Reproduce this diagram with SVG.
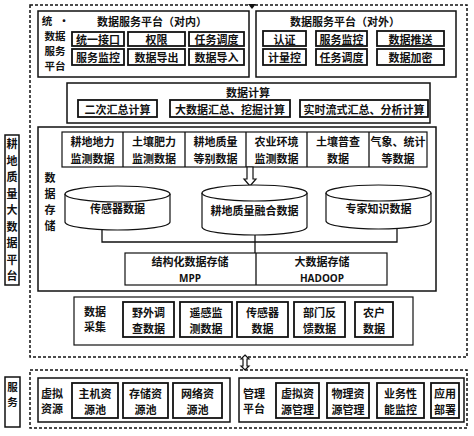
<svg xmlns="http://www.w3.org/2000/svg" width="474" height="436" viewBox="0 0 474 436">
<style>
text{font-family:"Noto Sans CJK SC","Noto Sans",sans-serif;font-weight:bold;font-size:11px;fill:#111;text-anchor:middle;dominant-baseline:central}
.sm{font-size:10.5px}
.en{font-family:"Open Sans","Liberation Sans",sans-serif;font-size:10px}
.dash{fill:none;stroke:#111;stroke-width:1.5;stroke-dasharray:3 2}
.box{fill:#fff;stroke:#111;stroke-width:1.5}
.btn{fill:#fff;stroke:#111;stroke-width:1.8}
.thin{fill:#fff;stroke:#111;stroke-width:1.2}
.ln{fill:none;stroke:#111;stroke-width:1.3}
</style>
<rect width="474" height="436" fill="#fff"/>

<g id="platform-frame">
<rect class="dash" x="30" y="5" width="437" height="352"/>
</g>
<g id="platform-label">
<rect class="box" x="5" y="135" width="14" height="150" stroke-width="2"/>
<text x="12" y="143">耕</text><text x="12" y="159.5">地</text><text x="12" y="176">质</text><text x="12" y="192.5">量</text><text x="12" y="209">大</text><text x="12" y="225.5">数</text><text x="12" y="242">据</text><text x="12" y="258.5">平</text><text x="12" y="275">台</text>
</g>

<g id="internal-service">
<rect class="box" x="38" y="11" width="211" height="66" stroke-width="2"/>
<text class="sm" x="47" y="20">统</text><text class="sm" x="64" y="20">·</text>
<text class="sm" x="55" y="35">数据</text><text class="sm" x="55" y="50">服务</text><text class="sm" x="55" y="65">平台</text>
<text x="152" y="21">数据服务平台（对内）</text>
<rect class="btn" x="72" y="32" width="52" height="14"/><text x="98" y="39">统一接口</text>
<rect class="btn" x="128" y="32" width="57" height="14"/><text x="156.5" y="39">权限</text>
<rect class="btn" x="189" y="32" width="55" height="14"/><text x="216.5" y="39">任务调度</text>
<rect class="btn" x="72" y="49" width="52" height="16"/><text x="98" y="57">服务监控</text>
<rect class="btn" x="128" y="49" width="57" height="16"/><text x="156.5" y="57">数据导出</text>
<rect class="btn" x="189" y="49" width="55" height="16"/><text x="216.5" y="57">数据导入</text>
</g>

<g id="external-service">
<rect class="box" x="256" y="11" width="200" height="66" stroke-width="2"/>
<text x="345" y="21">数据服务平台（对外）</text>
<rect class="btn" x="263" y="31" width="43" height="15"/><text x="284.5" y="38.5">认证</text>
<rect class="btn" x="316" y="31" width="51" height="15"/><text x="341.5" y="38.5">服务监控</text>
<rect class="btn" x="377" y="31" width="67" height="15"/><text x="410.5" y="38.5">数据推送</text>
<rect class="btn" x="263" y="49" width="43" height="16"/><text x="284.5" y="57">计量控</text>
<rect class="btn" x="316" y="49" width="51" height="16"/><text x="341.5" y="57">任务调度</text>
<rect class="btn" x="377" y="49" width="67" height="16"/><text x="410.5" y="57">数据加密</text>
</g>

<g id="data-computing">
<rect class="box" x="67" y="83" width="363" height="40" stroke-width="2"/>
<text x="248" y="92">数据计算</text>
<rect class="btn" x="78" y="100" width="79" height="17"/><text x="117.5" y="108.5">二次汇总计算</text>
<rect class="btn" x="170" y="100" width="120" height="17"/><text x="230" y="108.5">大数据汇总、挖掘计算</text>
<rect class="btn" x="300" y="100" width="128" height="17"/><text x="364" y="108.5">实时流式汇总、分析计算</text>
</g>

<g id="data-storage">
<rect class="box" x="38" y="127" width="398" height="164" stroke-width="2"/>
<text x="50" y="177">数</text><text x="50" y="193">据</text><text x="50" y="209">存</text><text x="50" y="225">储</text>
</g>

<g id="data-sources">
<rect class="thin" x="62" y="132" width="365" height="35"/>
<line class="ln" x1="123" y1="132" x2="123" y2="167"/>
<line class="ln" x1="185" y1="132" x2="185" y2="167"/>
<line class="ln" x1="246" y1="132" x2="246" y2="167"/>
<line class="ln" x1="307" y1="132" x2="307" y2="167"/>
<line class="ln" x1="369" y1="132" x2="369" y2="167"/>
<text x="92.5" y="141">耕地地力</text><text x="92.5" y="158">监测数据</text>
<text x="154" y="141">土壤肥力</text><text x="154" y="158">监测数据</text>
<text x="215.5" y="141">耕地质量</text><text x="215.5" y="158">等别数据</text>
<text x="276.5" y="141">农业环境</text><text x="276.5" y="158">监测数据</text>
<text x="338" y="141">土壤普查</text><text x="338" y="158">数据</text>
<text x="398" y="141">气象、统计</text><text x="398" y="158">等数据</text>
</g>

<g id="connectors">
<polygon class="thin" points="247,167 253,167 253,179 256,179 250,186 244,179 247,179"/>
<polyline class="ln" points="102,229 102,242 397,242 397,228"/>
<line class="ln" x1="255" y1="234" x2="255" y2="253"/>
<polygon points="248,4 256,4 252,9" fill="#111"/>
<polygon class="thin" points="245,355 249,359 247,359 247,366 249,366 245,370 241,366 243,366 243,359 241,359"/>
</g>

<g id="sensor-db">
<path class="thin" d="M65,194 L65,222 A52.5,8 0 0 0 170,222 L170,194"/>
<ellipse class="thin" cx="117.5" cy="194" rx="52.5" ry="8"/>
<text x="117.5" y="208">传感器数据</text>
</g>
<g id="fusion-db">
<path class="thin" d="M202,193 L202,227 A52.5,8 0 0 0 307,227 L307,193"/>
<ellipse class="thin" cx="254.5" cy="193" rx="52.5" ry="8"/>
<text x="254.5" y="210">耕地质量融合数据</text>
</g>
<g id="expert-db">
<path class="thin" d="M326,193 L326,221 A52.5,8 0 0 0 431,221 L431,193"/>
<ellipse class="thin" cx="378.5" cy="193" rx="52.5" ry="8"/>
<text x="378.5" y="208">专家知识数据</text>
</g>

<g id="storage-engines">
<rect class="thin" x="125" y="253" width="262" height="32"/>
<line class="ln" x1="256" y1="253" x2="256" y2="285"/>
<text x="190" y="261">结构化数据存储</text><text class="en" x="190" y="278">MPP</text>
<text x="322" y="261">大数据存储</text><text class="en" x="322" y="278">HADOOP</text>
</g>

<g id="data-collection">
<rect class="thin" x="74" y="297" width="339" height="48"/>
<text x="95" y="311">数据</text><text x="95" y="326">采集</text>
<rect class="btn" x="123" y="302" width="51" height="35"/><text x="148.5" y="312">野外调</text><text x="148.5" y="328">查数据</text>
<rect class="btn" x="180" y="302" width="52" height="35"/><text x="206" y="312">遥感监</text><text x="206" y="328">测数据</text>
<rect class="btn" x="237" y="302" width="51" height="35"/><text x="262.5" y="312">传感器</text><text x="262.5" y="328">数据</text>
<rect class="btn" x="294" y="302" width="51" height="35"/><text x="319.5" y="312">部门反</text><text x="319.5" y="328">馈数据</text>
<rect class="btn" x="355" y="302" width="38" height="35"/><text x="374" y="312">农户</text><text x="374" y="328">数据</text>
</g>

<g id="service-label">
<rect class="box" x="5" y="377" width="15" height="50" stroke-width="2"/>
<text class="sm" x="12.5" y="386">服</text><text class="sm" x="12.5" y="401">务</text>
</g>
<g id="service-frame">
<rect class="dash" x="30" y="370" width="437" height="58"/>
</g>

<g id="virtual-resources">
<rect class="box" x="38" y="378" width="192" height="44" stroke-width="2"/>
<text x="52" y="393">虚拟</text><text x="52" y="408">资源</text>
<rect class="btn" x="72" y="383" width="46" height="35"/><text x="95" y="393">主机资</text><text x="95" y="409">源池</text>
<rect class="btn" x="123" y="383" width="45" height="35"/><text x="145.5" y="393">存储资</text><text x="145.5" y="409">源池</text>
<rect class="btn" x="173" y="383" width="49" height="35"/><text x="197.5" y="393">网络资</text><text x="197.5" y="409">源池</text>
</g>

<g id="management-platform">
<rect class="box" x="239" y="378" width="225" height="44" stroke-width="2"/>
<text x="254" y="393">管理</text><text x="254" y="408">平台</text>
<rect class="btn" x="276" y="383" width="43" height="35"/><text x="297.5" y="393">虚拟资</text><text x="297.5" y="409">源管理</text>
<rect class="btn" x="327" y="383" width="42" height="35"/><text x="348" y="393">物理资</text><text x="348" y="409">源管理</text>
<rect class="btn" x="377" y="383" width="47" height="35"/><text x="400.5" y="393">业务性</text><text x="400.5" y="409">能监控</text>
<rect class="btn" x="431" y="383" width="28" height="35"/><text x="445" y="393">应用</text><text x="445" y="409">部署</text>
</g>
</svg>
